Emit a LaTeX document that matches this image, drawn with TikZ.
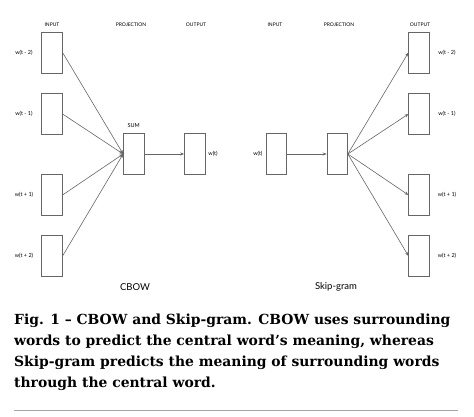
\documentclass[tikz,border=0pt]{standalone}
\usepackage{fontspec}
\setmainfont{Lato}
\newfontfamily\capfont{DejaVu Serif}
\usetikzlibrary{arrows.meta}
\definecolor{linegray}{HTML}{666666}
\tikzset{
  box/.style={draw=linegray, line width=0.6pt, minimum width=20.5pt, minimum height=41pt, inner sep=0pt},
  lbl/.style={font=\fontsize{5.5}{6}\selectfont, inner sep=1pt},
  head/.style={font=\fontsize{5}{6}\selectfont, inner sep=1pt},
  title/.style={font=\fontsize{9.5}{11}\selectfont, inner sep=1pt},
  conn/.style={draw=linegray, line width=0.6pt, -{Stealth[length=4pt,width=3pt]}}
}
\begin{document}
\begin{tikzpicture}[x=1pt,y=-1pt]
\useasboundingbox (0,0) rectangle (474,417);
% CBOW
\node[head] (cin) at (52,25) {INPUT};
\node[head] (cproj) at (131,25) {PROJECTION};
\node[head] (cout) at (196,25) {OUTPUT};
\foreach \i/\y/\t in {1/52.5/{w(t - 2)},2/114/{w(t - 1)},3/195/{w(t + 1)},4/256/{w(t + 2)}} {
  \node[box] (cw\i) at (52,\y) {};
  \node[lbl] (cl\i) at (24,\y) {\t};
}
\node[box] (csum) at (133.7,154) {};
\node[lbl, above=4pt] (csumlbl) at (csum.north) {SUM};
\node[box] (cwt) at (194.7,154) {};
\node[lbl, right=2pt] (cwtlbl) at (cwt.east) {w(t)};
\foreach \i in {1,...,4}
  \draw[conn] (cw\i.east) -- (csum.west);
\draw[conn] (csum.east) -- (cwt.west);
\node[title] (cbow) at (135,287) {CBOW};
% Skip-gram
\node[head] (sin) at (275,25) {INPUT};
\node[head] (sproj) at (339,25) {PROJECTION};
\node[head] (sout) at (420,25) {OUTPUT};
\node[box] (swt) at (276.2,154) {};
\node[lbl, left=2pt] (swtlbl) at (swt.west) {w(t)};
\node[box] (sproj1) at (337.3,154) {};
\draw[conn] (swt.east) -- (sproj1.west);
\foreach \i/\y/\t in {1/52.5/{w(t - 2)},2/114/{w(t - 1)},3/195/{w(t + 1)},4/256/{w(t + 2)}} {
  \node[box] (sw\i) at (419,\y) {};
  \node[lbl] (sl\i) at (447,\y) {\t};
  \draw[conn] (sproj1.east) -- (sw\i.west);
}
\node[title] (skip) at (336,287) {Skip-gram};
% caption
\node[anchor=north west, inner sep=0pt, align=left, font=\capfont\bfseries\fontsize{13.9}{21}\selectfont] (cap) at (14,314)
  {Fig. 1 – CBOW and Skip-gram. CBOW uses surrounding\\
   words to predict the central word’s meaning, whereas\\
   Skip-gram predicts the meaning of surrounding words\\
   through the central word.};
\coordinate (rulel) at (14,410);
\coordinate (ruler) at (458,410);
\draw[gray!70, line width=0.8pt] (rulel) -- (ruler);
\end{tikzpicture}
\end{document}
